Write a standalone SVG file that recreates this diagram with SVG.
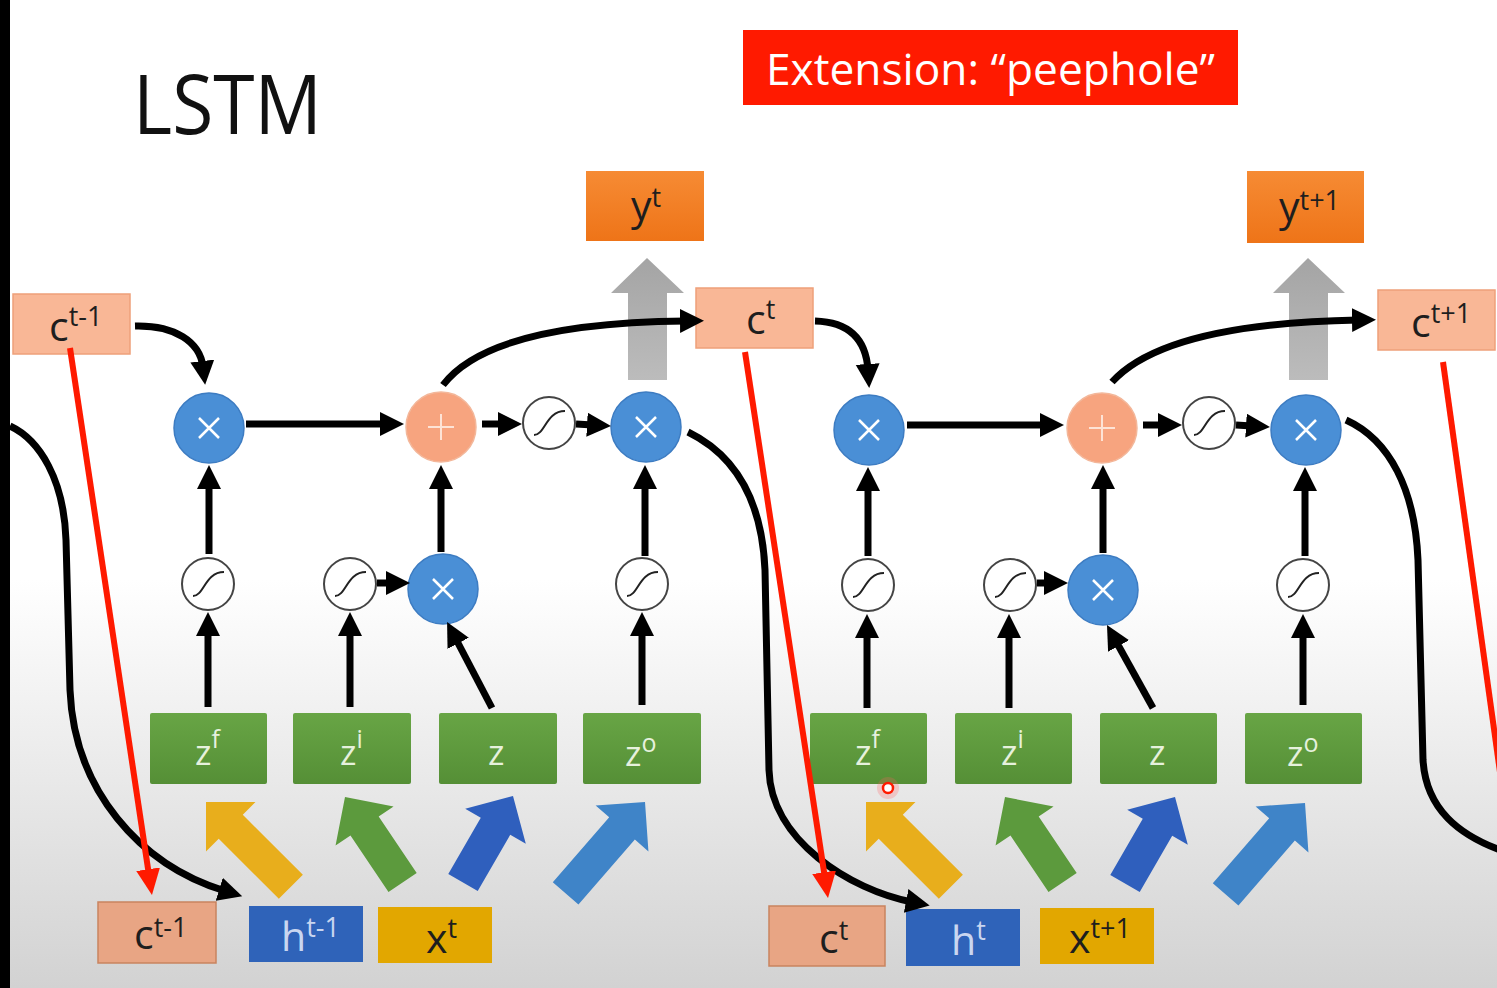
<svg xmlns="http://www.w3.org/2000/svg" width="1497" height="988" viewBox="0 0 1497 988">
<defs>
<linearGradient id="bg" x1="0" y1="580" x2="0" y2="988" gradientUnits="userSpaceOnUse"><stop offset="0" stop-color="#ffffff"/><stop offset="1" stop-color="#d2d2d2"/></linearGradient>
<linearGradient id="gz" x1="0" y1="0" x2="0" y2="1"><stop offset="0" stop-color="#68a545"/><stop offset="1" stop-color="#558f36"/></linearGradient>
<linearGradient id="gy" x1="0" y1="0" x2="0" y2="1"><stop offset="0" stop-color="#f68b34"/><stop offset="1" stop-color="#ee7418"/></linearGradient>
<linearGradient id="gg" x1="0" y1="0" x2="0" y2="1"><stop offset="0" stop-color="#a4a4a4"/><stop offset="1" stop-color="#bcbcbc"/></linearGradient>
<marker id="ah" markerUnits="userSpaceOnUse" markerWidth="26" markerHeight="26" refX="6" refY="12" orient="auto"><path d="M0,0 L24,12 L0,24 Z" fill="#000"/></marker>
<marker id="rh" markerUnits="userSpaceOnUse" markerWidth="28" markerHeight="26" refX="4" refY="12" orient="auto"><path d="M0,0 L26,12 L0,24 Z" fill="#ff1a00"/></marker>
<g id="mulSym"><circle r="35" fill="#4a8fd6" stroke="#3d7cc2" stroke-width="1.5"/><path d="M-10,-10 L10,10 M10,-10 L-10,10" stroke="#ffffff" stroke-width="2.5"/></g>
<g id="addSym"><circle r="35" fill="#f7a47f" stroke="#f3b79a" stroke-width="1.5"/><path d="M-13,0 H13 M0,-13 V13" stroke="#fde3d6" stroke-width="2"/></g>
<g id="sigSym"><circle r="26" fill="#ffffff" stroke="#444" stroke-width="2"/><path d="M-15,12 C-4,12 -3,-12 16,-12" fill="none" stroke="#222" stroke-width="2"/></g>
</defs>
<style>
.t{font-family:"Open Sans","Noto Sans","Liberation Sans",sans-serif;}
.cb{fill:#f9b796;stroke:#eea07a;stroke-width:1.5}
.cb2{fill:#e8a584;stroke:#c9845f;stroke-width:1.5}
.hb{fill:#2f63b9}
.xb{fill:#e2a700}
.yb{fill:url(#gy)}
.zb{fill:url(#gz)}
.lbl{font-size:41px;fill:#1e1e1e}
.zl{font-size:35px;fill:#e6f1dd}
.hl{font-size:41px;fill:#c9d6f0}
.sup{font-size:27px}
.zsup{font-size:25px}
.blk{stroke:#000;stroke-width:7;fill:none;marker-end:url(#ah)}
.red{stroke:#ff1a00;stroke-width:6;fill:none;marker-end:url(#rh)}
.curve{stroke:#000;stroke-width:7;fill:none}
</style>
<rect x="0" y="0" width="1497" height="988" fill="url(#bg)"/>
<rect x="0" y="0" width="10" height="988" fill="#000"/>

<g id="title"><text class="t" x="133" y="134" font-size="82" fill="#111" textLength="189" lengthAdjust="spacingAndGlyphs">LSTM</text></g>
<g id="banner"><rect x="743" y="30" width="495" height="75" fill="#ff1a00"/><text class="t" x="766" y="85" font-size="43" fill="#ffffff" textLength="449" lengthAdjust="spacingAndGlyphs">Extension: “peephole”</text></g>

<g id="out1"><path d="M628,380 V293 H611 L647,258 L684,293 H667 V380 Z" fill="url(#gg)"/></g>
<g id="out2"><path d="M1289,380 V293 H1273 L1308,258 L1345,293 H1328 V380 Z" fill="url(#gg)"/></g>

<g id="in-arrows">
<path d="M0,0 L-35,-35 L-35,-17 L-120,-17 L-120,17 L-35,17 L-35,35 Z" fill="#e8ae1c" transform="translate(206,802) rotate(-135)"/>
<path d="M0,0 L-35,-35 L-35,-17 L-103,-17 L-103,17 L-35,17 L-35,35 Z" fill="#5c9a3d" transform="translate(345,797) rotate(-124)"/>
<path d="M0,0 L-35,-35 L-35,-17 L-100,-17 L-100,17 L-35,17 L-35,35 Z" fill="#2f5fbd" transform="translate(513,796) rotate(-60)"/>
<path d="M0,0 L-35,-35 L-35,-17 L-121,-17 L-121,17 L-35,17 L-35,35 Z" fill="#3f84c8" transform="translate(645,802) rotate(-49)"/>
<path d="M0,0 L-35,-35 L-35,-17 L-120,-17 L-120,17 L-35,17 L-35,35 Z" fill="#e8ae1c" transform="translate(866,802) rotate(-135)"/>
<path d="M0,0 L-35,-35 L-35,-17 L-103,-17 L-103,17 L-35,17 L-35,35 Z" fill="#5c9a3d" transform="translate(1005,797) rotate(-124)"/>
<path d="M0,0 L-35,-35 L-35,-17 L-100,-17 L-100,17 L-35,17 L-35,35 Z" fill="#2f5fbd" transform="translate(1175,797) rotate(-60)"/>
<path d="M0,0 L-35,-35 L-35,-17 L-121,-17 L-121,17 L-35,17 L-35,35 Z" fill="#3f84c8" transform="translate(1305,803) rotate(-49)"/>
</g>

<g id="c-tm1-top"><rect class="cb" x="13" y="294" width="117" height="60"/><text class="t lbl" x="49" y="341">c<tspan class="sup" dy="-15">t-1</tspan></text></g>
<g id="c-t-top"><rect class="cb" x="696" y="288" width="117" height="60"/><text class="t lbl" x="746" y="334">c<tspan class="sup" dy="-15">t</tspan></text></g>
<g id="c-tp1-top"><rect class="cb" x="1378" y="290" width="117" height="60"/><text class="t lbl" x="1411" y="337">c<tspan class="sup" dy="-14">t+1</tspan></text></g>
<g id="y-t"><rect class="yb" x="586" y="171" width="118" height="70"/><text class="t lbl" x="631" y="220">y<tspan class="sup" dy="-13">t</tspan></text></g>
<g id="y-tp1"><rect class="yb" x="1247" y="171" width="117" height="72"/><text class="t lbl" x="1279" y="221">y<tspan class="sup" dy="-11">t+1</tspan></text></g>

<g id="c-tm1-bot"><rect class="cb2" x="98" y="902" width="118" height="61"/><text class="t lbl" x="134" y="949">c<tspan class="sup" dy="-12">t-1</tspan></text></g>
<g id="h-tm1"><rect class="hb" x="249" y="906" width="114" height="56"/><text class="t hl" x="281" y="951">h<tspan class="sup" dy="-14">t-1</tspan></text></g>
<g id="x-t"><rect class="xb" x="378" y="907" width="114" height="56"/><text class="t lbl" x="426" y="953">x<tspan class="sup" dy="-15">t</tspan></text></g>
<g id="c-t-bot"><rect class="cb2" x="769" y="906" width="116" height="60"/><text class="t lbl" x="819" y="953">c<tspan class="sup" dy="-13">t</tspan></text></g>
<g id="h-t"><rect class="hb" x="906" y="909" width="114" height="57"/><text class="t hl" x="951" y="955">h<tspan class="sup" dy="-15">t</tspan></text></g>
<g id="x-tp1"><rect class="xb" x="1040" y="908" width="114" height="56"/><text class="t lbl" x="1069" y="953">x<tspan class="sup" dy="-15">t+1</tspan></text></g>

<g id="zf1"><rect class="zb" x="150" y="713" width="117" height="71" rx="2"/><text class="t zl" x="195" y="765">z<tspan class="zsup" dy="-17">f</tspan></text></g>
<g id="zi1"><rect class="zb" x="293" y="713" width="118" height="71" rx="2"/><text class="t zl" x="340" y="765">z<tspan class="zsup" dy="-17">i</tspan></text></g>
<g id="z1"><rect class="zb" x="439" y="713" width="118" height="71" rx="2"/><text class="t zl" x="488" y="765">z</text></g>
<g id="zo1"><rect class="zb" x="583" y="713" width="118" height="71" rx="2"/><text class="t zl" x="625" y="766">z<tspan class="zsup" dy="-14">o</tspan></text></g>
<g id="zf2"><rect class="zb" x="810" y="713" width="117" height="71" rx="2"/><text class="t zl" x="855" y="765">z<tspan class="zsup" dy="-17">f</tspan></text></g>
<g id="zi2"><rect class="zb" x="955" y="713" width="117" height="71" rx="2"/><text class="t zl" x="1001" y="765">z<tspan class="zsup" dy="-17">i</tspan></text></g>
<g id="z2"><rect class="zb" x="1100" y="713" width="117" height="71" rx="2"/><text class="t zl" x="1149" y="765">z</text></g>
<g id="zo2"><rect class="zb" x="1245" y="713" width="117" height="71" rx="2"/><text class="t zl" x="1287" y="766">z<tspan class="zsup" dy="-14">o</tspan></text></g>

<g id="fmul1" transform="translate(209,428)"><use href="#mulSym"/></g>
<g id="add1" transform="translate(441,427)"><use href="#addSym"/></g>
<g id="tanh1" transform="translate(549,423)"><use href="#sigSym"/></g>
<g id="omul1" transform="translate(646,427)"><use href="#mulSym"/></g>
<g id="sf1" transform="translate(208,584)"><use href="#sigSym"/></g>
<g id="si1" transform="translate(350,584)"><use href="#sigSym"/></g>
<g id="imul1" transform="translate(443,589)"><use href="#mulSym"/></g>
<g id="so1" transform="translate(642,584)"><use href="#sigSym"/></g>

<g id="fmul2" transform="translate(869,430)"><use href="#mulSym"/></g>
<g id="add2" transform="translate(1102,428)"><use href="#addSym"/></g>
<g id="tanh2" transform="translate(1209,423)"><use href="#sigSym"/></g>
<g id="omul2" transform="translate(1306,430)"><use href="#mulSym"/></g>
<g id="sf2" transform="translate(868,585)"><use href="#sigSym"/></g>
<g id="si2" transform="translate(1010,585)"><use href="#sigSym"/></g>
<g id="imul2" transform="translate(1103,590)"><use href="#mulSym"/></g>
<g id="so2" transform="translate(1303,585)"><use href="#sigSym"/></g>

<g id="connectors">
<path class="curve" d="M10,426 C40,440 64,480 66,540 L70,690 C74,790 140,865 225,891" marker-end="url(#ah)"/>
<path class="blk" d="M135,326 C175,325 200,342 203,367"/>
<path class="blk" d="M246,424 L386,424"/>
<path class="blk" d="M443,385 C480,336 580,322 686,321"/>
<path class="blk" d="M482,424 L504,424"/>
<path class="blk" d="M576,424 L593,425"/>
<path class="blk" d="M209,554 L209,483"/>
<path class="blk" d="M208,707 L208,630"/>
<path class="blk" d="M350,707 L350,630"/>
<path class="blk" d="M377,583 L392,583"/>
<path class="blk" d="M492,708 L455.4,638"/>
<path class="blk" d="M441,552 L441,483"/>
<path class="blk" d="M642,705 L642,630"/>
<path class="blk" d="M645,556 L645,483"/>
<path class="curve" d="M688,432 C735,455 762,500 765,570 L769,770 C771,840 850,890 912,902" marker-end="url(#ah)"/>

<path class="blk" d="M815,321 C850,322 866,340 868,370"/>
<path class="blk" d="M907,425 L1046,425"/>
<path class="blk" d="M1112,382 C1150,340 1240,322 1358,320"/>
<path class="blk" d="M1143,425 L1164,425"/>
<path class="blk" d="M1236,425 L1252,426"/>
<path class="blk" d="M868,556 L868,485"/>
<path class="blk" d="M867,708 L867,632"/>
<path class="blk" d="M1009,708 L1009,632"/>
<path class="blk" d="M1037,583 L1050,583"/>
<path class="blk" d="M1153,708 L1115.7,640.7"/>
<path class="blk" d="M1103,553 L1103,483"/>
<path class="blk" d="M1303,705 L1303,632"/>
<path class="blk" d="M1305,556 L1305,485"/>
<path class="curve" d="M1346,420 C1390,440 1415,490 1418,560 L1423,760 C1426,810 1460,835 1500,850"/>

<path class="red" d="M70,348 L148.7,873.2"/>
<path class="red" d="M745,352 L824.7,876.2"/>
<path d="M1443,362 L1500,772" stroke="#ff1a00" stroke-width="6" fill="none"/>
</g>

<g id="cursor"><circle cx="888" cy="788" r="11" fill="#ff6060" opacity="0.25"/><circle cx="888" cy="788" r="5" fill="#fff" stroke="#ff1a00" stroke-width="2.5"/></g>
</svg>
